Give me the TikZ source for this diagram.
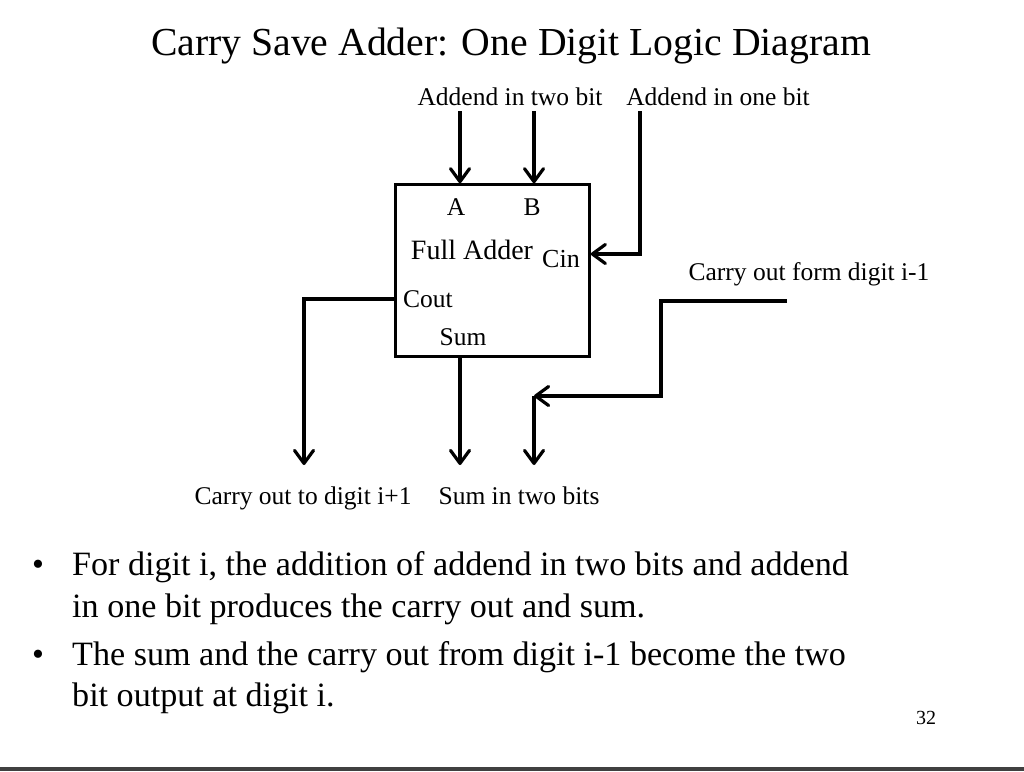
\documentclass[tikz,border=0pt]{standalone}
\usepackage{fontspec}
\setmainfont{Liberation Serif}
\usetikzlibrary{arrows.meta}
\tikzset{
  wire/.style={-{Straight Barb[length=13pt,width=19pt,line width=3.2pt,round]}, line width=3.2pt, draw=black},
  lbl/.style={inner sep=0pt, anchor=base, font=\fontsize{25.5}{26}\selectfont},
  body/.style={inner sep=0pt, anchor=base west, font=\fontsize{34.1}{34}\selectfont}
}
\begin{document}
\begin{tikzpicture}[x=1pt,y=-1pt]
\useasboundingbox (0,0) rectangle (1024,771);
\node[lbl,font=\fontsize{39.7}{40}\selectfont] (title) at (511,55) {Carry Save Adder: One Digit Logic Diagram};
\node[draw, line width=2.5pt, minimum width=194pt, minimum height=172pt, inner sep=0pt] (fa) at (492.5,270.5) {};
\node[lbl] (atwo) at (510,105) {Addend in two bit};
\node[lbl] (aone) at (718,105) {Addend in one bit};
\node[lbl] (a) at (456,215) {A};
\node[lbl] (b) at (532,215) {B};
\node[lbl,font=\fontsize{28}{28}\selectfont] (name) at (472,259) {Full Adder};
\node[lbl,font=\fontsize{26}{26}\selectfont] (cin) at (561,267) {Cin};
\node[lbl] (cout) at (428,307) {Cout};
\node[lbl] (sum) at (463,345) {Sum};
\node[lbl] (cfrom) at (809,280) {Carry out form digit i-1};
\node[lbl] (cto) at (303,504) {Carry out to digit i+1};
\node[lbl] (stwo) at (519,504) {Sum in two bits};
\coordinate (ain) at (460,111);
\coordinate (bin) at (534,111);
\coordinate (cinstart) at (640,111);
\coordinate (cinlevel) at (640,254);
\coordinate (coutlevel) at (395,299);
\coordinate (coutend) at (304,465);
\coordinate (sumend) at (460,465);
\coordinate (prevstart) at (787,301);
\coordinate (prevend) at (534,396);
\coordinate (stwoend) at (534,465);
\draw [wire] (ain) -- (ain |- fa.north);
\draw [wire] (bin) -- (bin |- fa.north);
\draw [wire] (cinstart) -- (cinlevel) -- (fa.east |- cinlevel);
\draw [wire] (fa.west |- coutlevel) -| (coutend);
\draw [wire] (sumend |- fa.south) -- (sumend);
\draw [wire] (prevstart) -- (661,301) -- (661,396) -- (prevend);
\draw [wire] (prevend) -- (stwoend);
\node[lbl,font=\fontsize{34}{34}\selectfont] (dota) at (38,575) {•};
\node[body] (ba) at (72,575) {For digit i, the addition of addend in two bits and addend};
\node[body] (bb) at (72,617) {in one bit produces the carry out and sum.};
\node[lbl,font=\fontsize{34}{34}\selectfont] (dotb) at (38,665) {•};
\node[body] (bc) at (72,665) {The sum and the carry out from digit i-1 become the two};
\node[body] (bd) at (72,706) {bit output at digit i.};
\node[lbl,font=\fontsize{20}{20}\selectfont] (page) at (926,724) {32};
\fill[black!75] (0,767) rectangle (1024,771);
\end{tikzpicture}
\end{document}
